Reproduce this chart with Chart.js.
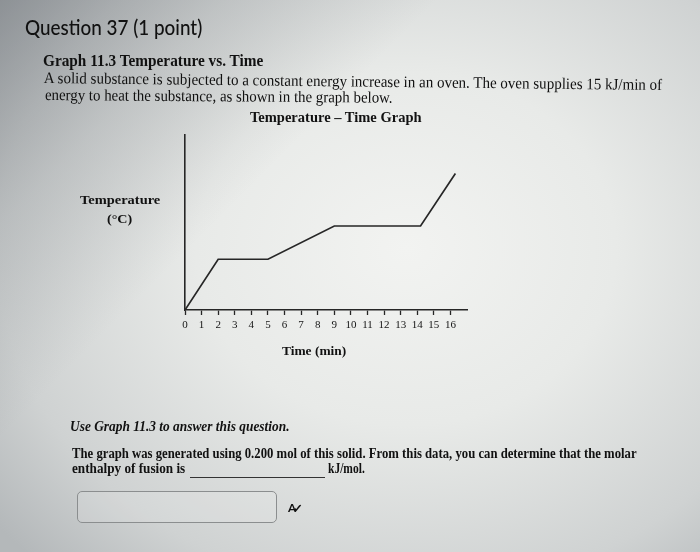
<!DOCTYPE html>
<html>
<head>
<meta charset="utf-8">
<script src="https://cdn.jsdelivr.net/npm/chart.js@4.4.1/dist/chart.umd.min.js"></script>
<style>
  html, body { margin:0; padding:0; }
  body {
    width:700px; height:552px; overflow:hidden; position:relative;
    background:
      linear-gradient(135deg, rgba(105,110,116,0.55) 0%, rgba(120,125,130,0.25) 18%, rgba(130,135,140,0) 35%),
      radial-gradient(ellipse 75% 80% at 58% 45%, #f2f3f1 0%, #e8eae8 40%, #cfd2d2 78%, #b4b8ba 100%);
  }
  #wrap { position:absolute; left:0; top:0; width:700px; height:552px; z-index:0; }
  .t { position:absolute; white-space:nowrap; line-height:1; color:#111; transform-origin:0 0; z-index:1; }
  .serif { font-family:"Liberation Serif","DejaVu Serif",serif; }
  .sans { font-family:"Lato","Open Sans",sans-serif; }
  .b { font-weight:bold; }
  .i { font-style:italic; }
  #blank { position:absolute; left:190px; top:477px; width:135px; height:0; border-top:1px solid #333; z-index:1; }
  #box { position:absolute; left:77px; top:491px; width:198px; height:30px; border:1.5px solid #8b8e8f; border-radius:5px; background:rgba(255,255,255,0.12); z-index:1; }
</style>
</head>
<body>
<div id="wrap"><canvas id="chart" width="700" height="552" style="width:700px;height:552px;"></canvas></div>

<div class="t sans" data-w="177" data-bl="35" data-x="25" style="font-size:21px;font-weight:500;">Question 37 (1 point)</div>
<div class="t serif b" data-w="220" data-bl="66" data-x="43" style="font-size:16px;">Graph 11.3 Temperature vs. Time</div>
<div class="t serif" data-w="618" data-bl="83" data-x="44" data-r="0.65" style="font-size:16px;">A solid substance is subjected to a constant energy increase in an oven. The oven supplies 15 kJ/min of</div>
<div class="t serif" data-w="348" data-bl="100.5" data-x="45" data-r="0.45" style="font-size:16px;">energy to heat the substance, as shown in the graph below.</div>
<div class="t serif b" data-w="172" data-bl="123" data-x="250" style="font-size:14px;">Temperature – Time Graph</div>

<div class="t serif b" data-w="80" data-bl="204" data-x="80" style="font-size:13px;">Temperature</div>
<div class="t serif b" data-w="25" data-bl="223" data-x="107" style="font-size:13px;">(°C)</div>
<div class="t serif b" data-w="64" data-bl="355" data-x="282" style="font-size:13px;">Time (min)</div>

<div class="t serif b i" data-w="220" data-bl="432" data-x="70" style="font-size:14px;">Use Graph 11.3 to answer this question.</div>
<div class="t serif b" data-w="565" data-bl="458.5" data-x="72" style="font-size:14px;">The graph was generated using 0.200 mol of this solid. From this data, you can determine that the molar</div>
<div class="t serif b" data-w="113" data-bl="474" data-x="72" style="font-size:14px;">enthalpy of fusion is</div>
<div id="blank"></div>
<div class="t serif b" data-w="37" data-bl="474" data-x="328" style="font-size:14px;">kJ/mol.</div>
<div id="box"></div>
<div class="t sans b" data-w="15" data-bl="512" data-x="288" style="font-size:11px;">A<span style="margin-left:-3px">✓</span></div>

<script>
// ---- data ----
const timeMin = [0, 2, 5, 9, 14.2, 16.3];          // x values (min)
const temperature = [0, 29, 29, 48, 48, 78];        // relative temperature (no scale shown)
const xTickLabels = ['0','1','2','3','4','5','6','7','8','9','10','11','12','13','14','15','16'];

// ---- place & fit texts ----
document.querySelectorAll('.t').forEach(el => {
  const fs = parseFloat(el.style.fontSize);
  const isSans = el.classList.contains('sans');
  const asc = isSans ? 0.887 : 0.837;
  el.style.left = el.dataset.x + 'px';
  el.style.top = (parseFloat(el.dataset.bl) - asc * fs) + 'px';
  const nat = el.offsetWidth;
  const s = parseFloat(el.dataset.w) / nat;
  const r = parseFloat(el.dataset.r || 0);
  el.style.transform = `rotate(${r}deg) scaleX(${s})`;
});

// ---- chart ----
const pts = timeMin.map((t, i) => ({ x: t, y: temperature[i] }));
const axisColor = '#262626';

new Chart(document.getElementById('chart'), {
  type: 'line',
  data: {
    datasets: [{
      data: pts,
      borderColor: '#262626',
      borderWidth: 1.7,
      pointRadius: 0,
      tension: 0,
      fill: false
    }]
  },
  options: {
    responsive: false,
    animation: false,
    devicePixelRatio: 1,
    layout: { padding: { left: 185, right: 233, top: 135, bottom: 197 } },
    plugins: { legend: { display: false }, tooltip: { enabled: false }, title: { display: false } },
    scales: {
      x: {
        type: 'linear',
        min: 0,
        max: 17,
        afterBuildTicks: (scale) => {
          scale.ticks = xTickLabels.map(v => ({ value: Number(v) }));
        },
        afterFit: (scale) => { scale.height = 45; },
        ticks: {
          stepSize: 1,
          autoSkip: false,
          maxRotation: 0,
          padding: 4,
          color: '#151515',
          font: { family: '"Liberation Serif", serif', size: 11 },
          callback: (v) => xTickLabels[v] !== undefined ? xTickLabels[v] : ''
        },
        grid: { display: true, drawOnChartArea: false, drawTicks: true, tickLength: 5, tickColor: axisColor, tickWidth: 1.3 },
        border: { display: true, color: axisColor, width: 1.6 }
      },
      y: {
        min: 0,
        max: 100,
        afterFit: (scale) => { scale.width = 0; },
        ticks: { display: false },
        grid: { display: false },
        border: { display: true, color: axisColor, width: 1.6 }
      }
    }
  }
});
</script>
</body>
</html>
